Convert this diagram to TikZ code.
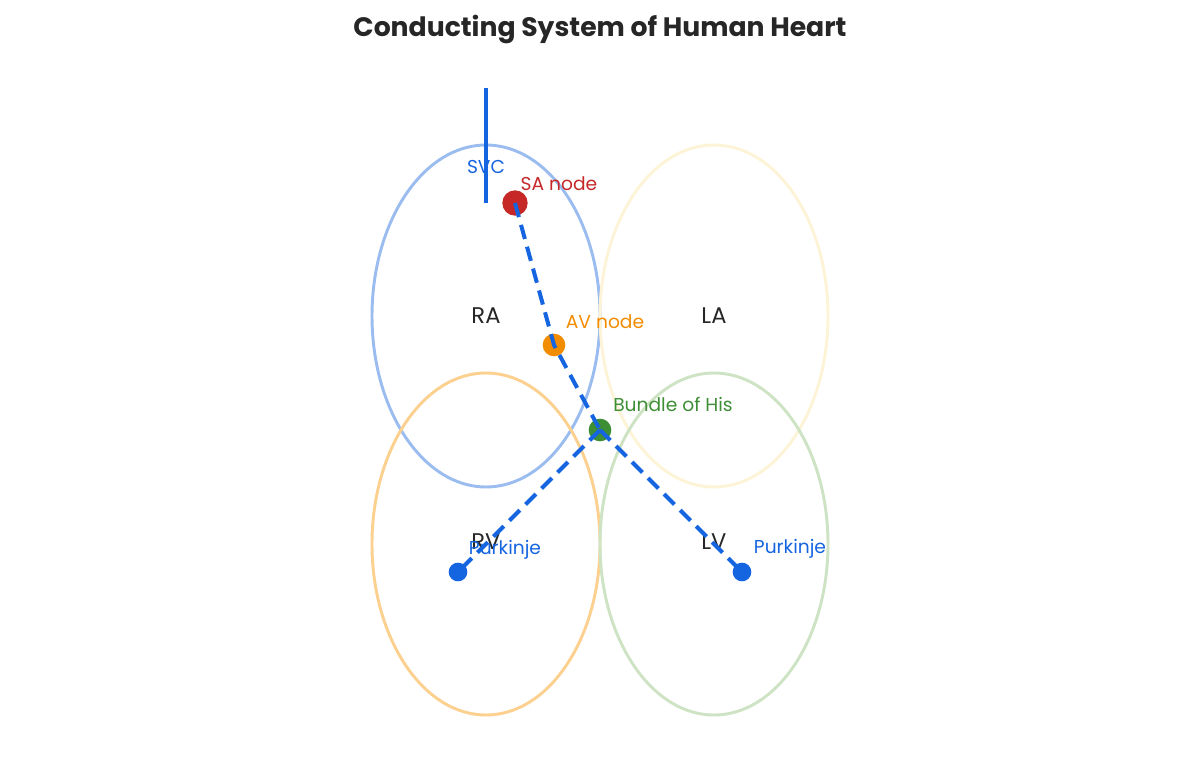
\documentclass[tikz,border=0pt]{standalone}
\usepackage{fontspec}
\setmainfont{Poppins}
\begin{document}
\begin{tikzpicture}[x=0.75pt,y=-0.75pt,
  lbl/.style={font=\fontsize{14}{16}\selectfont},
  cham/.style={font=\fontsize{17}{20}\selectfont, text=black!85},
  dot/.style={circle, inner sep=0pt},
  path/.style={draw=bl, line width=3pt, dash pattern=on 11pt off 6pt}]
\definecolor{bl}{HTML}{1565E0}
\definecolor{ra}{HTML}{9BBCEF}
\definecolor{la}{HTML}{FDF3D6}
\definecolor{rv}{HTML}{FCD08F}
\definecolor{lv}{HTML}{CDE3C4}
\definecolor{sa}{HTML}{C62828}
\definecolor{av}{HTML}{F28C00}
\definecolor{his}{HTML}{3E8E35}
\useasboundingbox (0,0) rectangle (1200,763);
\node[font=\bfseries\fontsize{20}{24}\selectfont, text=black!85] (title) at (600,29) {Conducting System of Human Heart};
\draw[ra, line width=2.2pt] (486,316) ellipse [x radius=114, y radius=171];
\draw[la, line width=2.2pt] (714,316) ellipse [x radius=114, y radius=171];
\draw[rv, line width=2.2pt] (486,544) ellipse [x radius=114, y radius=171];
\draw[lv, line width=2.2pt] (714,544) ellipse [x radius=114, y radius=171];
\node[cham] (ra) at (486,316) {RA};
\node[cham] (la) at (714,316) {LA};
\node[cham] (rvl) at (486,542) {RV};
\node[cham] (lvl) at (714,542) {LV};
\coordinate (svctop) at (486,88);
\coordinate (svcbot) at (486,203);
\draw[bl, line width=3pt] (svctop) -- (svcbot);
\node[lbl, text=bl] (svc) at (486,167) {SVC};
\node[dot, fill=sa, minimum size=19pt] (san) at (515,203) {};
\node[dot, fill=av, minimum size=17pt] (avn) at (554,345) {};
\node[dot, fill=his, minimum size=17pt] (his) at (600,430) {};
\node[dot, fill=bl, minimum size=14pt] (pl) at (458,572) {};
\node[dot, fill=bl, minimum size=14pt] (pr) at (742,572) {};
\draw[path] (san.center) -- (avn.center) -- (his.center);
\draw[path] (his.center) -- (pl.center);
\draw[path] (his.center) -- (pr.center);
\node[lbl, text=sa] (sal) at (559,184) {SA node};
\node[lbl, text=av] (avl) at (605,322) {AV node};
\node[lbl, text=his] (hisl) at (673,404) {Bundle of His};
\node[lbl, text=bl] (pll) at (505,550) {Purkinje};
\node[lbl, text=bl] (prl) at (790,549) {Purkinje};
\end{tikzpicture}
\end{document}
